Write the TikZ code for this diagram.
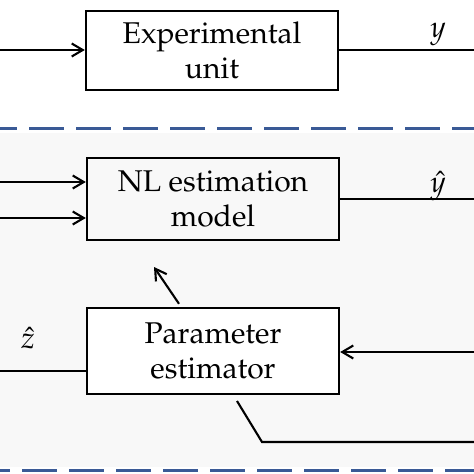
\documentclass[tikz,border=0pt]{standalone}
\usepackage[T1]{fontenc}
\usepackage{mathpazo}
\usetikzlibrary{arrows.meta}
\definecolor{dashblue}{RGB}{58,90,150}
\definecolor{bggray}{RGB}{248,248,248}
\tikzset{
  blockbox/.style={draw=black, line width=2.4pt, minimum width=252pt, align=center, inner sep=0pt,
    font=\fontsize{30}{35}\selectfont},
  conn/.style={line width=2.1pt, draw=black},
  arr/.style={conn, -{Straight Barb[length=11pt,width=13pt,line width=2.1pt]}},
  sep/.style={draw=dashblue, line width=3.6pt},
  lab/.style={anchor=base, inner sep=0pt, font=\fontsize{30}{34}\selectfont}
}
\begin{document}
\begin{tikzpicture}[x=1pt, y=-1pt]
\useasboundingbox (0,0) rectangle (474,474);
\fill[bggray] (0,133) rectangle (474,467);
% separators
\coordinate (s1a) at (0,128.5);
\coordinate (s1b) at (474,128.5);
\coordinate (s2a) at (0,470.5);
\coordinate (s2b) at (474,470.5);
\draw[sep, dash pattern=on 35pt off 12pt, dash phase=18pt] (s1a) -- (s1b);
\draw[sep, dash pattern=on 35pt off 12pt, dash phase=25pt] (s2a) -- (s2b);
% blocks
\node[blockbox, minimum height=79pt, fill=white] (exp) at (212,50.5) {Experimental\\unit};
\node[blockbox, minimum height=82pt] (nl) at (213,199) {NL estimation\\model};
\node[blockbox, minimum height=86pt, fill=white] (pe) at (213,351) {Parameter\\estimator};
% labels
\node[lab] (ly) at (438,37) {$y$};
\node[lab] (lyh) at (438,192) {$\hat{y}$};
\node[lab] (lzh) at (28,348) {$\hat{z}$};
% coordinates
\coordinate (in0) at (0,50);
\coordinate (in1) at (0,182);
\coordinate (in2) at (0,218);
\coordinate (yout) at (474,50);
\coordinate (yhout) at (474,199);
\coordinate (zout) at (0,371);
\coordinate (fbin) at (474,352);
\coordinate (tipnl) at (154,267);
\coordinate (fb1) at (237,401);
\coordinate (fb2) at (262,442);
\coordinate (fb3) at (474,442);
% connectors
\draw[arr] (in0) -- (in0 -| exp.west);
\draw[conn] (yout -| exp.east) -- (yout);
\draw[arr] (in1) -- (in1 -| nl.west);
\draw[arr] (in2) -- (in2 -| nl.west);
\draw[conn] (yhout -| nl.east) -- (yhout);
\draw[arr] (fbin) -- (fbin -| pe.east);
\draw[conn] (zout -| pe.west) -- (zout);
\draw[arr] ([xshift=-34pt,yshift=3pt]pe.north) -- (tipnl);
\draw[conn] (fb1) -- (fb2) -- (fb3);
\end{tikzpicture}
\end{document}
